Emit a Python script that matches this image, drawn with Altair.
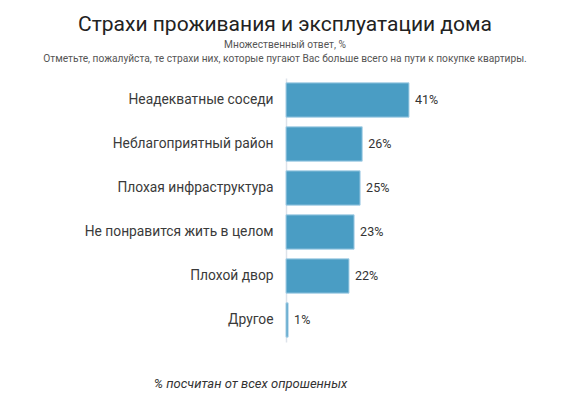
import altair as alt
import pandas as pd

categories = ["Неадекватные соседи", "Неблагоприятный район", "Плохая инфраструктура",
              "Не понравится жить в целом", "Плохой двор", "Другое"]
values = [41.0, 25.4, 24.7, 22.7, 21.0, 0.7]
labels = ["41%", "26%", "25%", "23%", "22%", "1%"]

df = pd.DataFrame({"cat": categories, "val": values, "lab": labels})

W = 200
H = 264

y = alt.Y("cat:N", sort=categories,
          scale=alt.Scale(paddingInner=0.22, paddingOuter=0.11),
          axis=alt.Axis(title=None, ticks=False, domain=True, domainColor="#dde3ea",
                        domainWidth=1.5, labelFontSize=13.8, labelColor="#3a3a3a",
                        labelFont="Roboto", labelPadding=13, labelLimit=300))
x = alt.X("val:Q", scale=alt.Scale(domain=[0, W / 3.0], nice=False, zero=True),
          axis=alt.Axis(labels=False, ticks=False, domain=False, grid=False,
                        title="% посчитан от всех опрошенных", titleFont="Roboto",
                        titleFontStyle="italic", titleFontWeight="normal",
                        titleFontSize=13, titleColor="#333333",
                        titleX=-36, titleY=41, titleAlign="center",
                        titleBaseline="middle", titleAnchor="start"))

bars = alt.Chart(df).mark_bar(color="#4a9dc4", stroke="#a9d1e7", strokeWidth=1).encode(
    y=y, x=x)

text = alt.Chart(df).mark_text(align="left", baseline="middle", dx=6, fontSize=12.5,
                               font="Roboto", color="#333333").encode(
    y=alt.Y("cat:N", sort=categories), x=alt.X("val:Q"), text="lab:N")

chart = alt.layer(bars, text).properties(
    width=W, height=H,
    background="white",
    title=alt.TitleParams(
        text="Страхи проживания и эксплуатации дома",
        subtitle=["Множественный ответ, %",
                  "Отметьте, пожалуйста, те страхи них, которые пугают Вас больше всего на пути к покупке квартиры."],
        font="Roboto", fontSize=21, fontWeight="normal", color="#222222",
        subtitleFont="Roboto", subtitleFontSize=10.2, subtitleColor="#555555",
        subtitleLineHeight=14, subtitlePadding=5,
        anchor="middle", frame="group", dx=285 - (286 + W / 2), offset=14),
    autosize=alt.AutoSizeParams(type="none"),
    padding={"left": 278, "top": 70, "right": 558 - 278 - W, "bottom": 383 - 70 - H},
).configure_view(strokeWidth=0, stroke="transparent")

chart.save("out.html", embed_options={"renderer": "svg", "actions": False})
